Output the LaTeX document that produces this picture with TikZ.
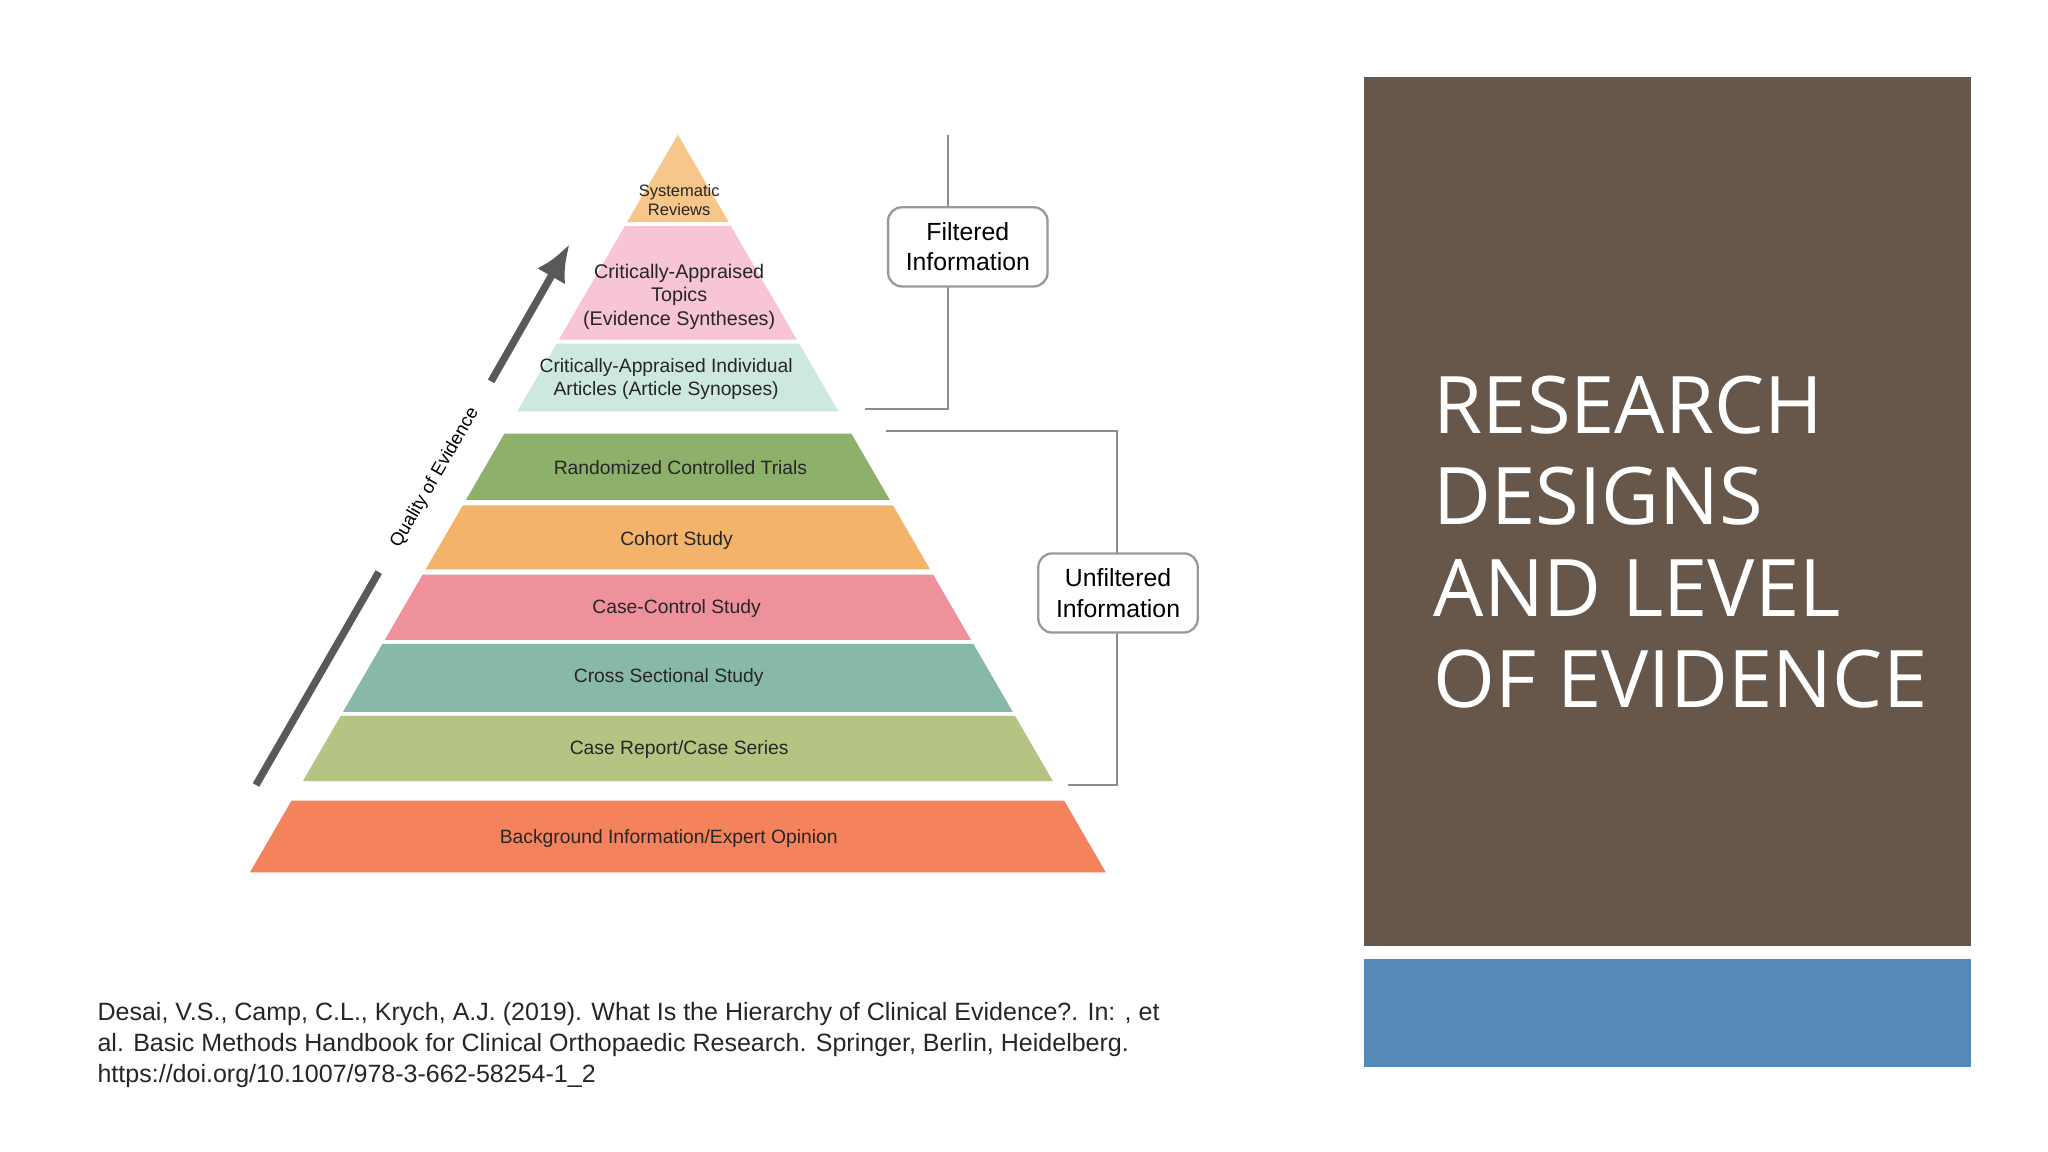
\documentclass[tikz,border=0pt]{standalone}
\usepackage{fontspec}
\usetikzlibrary{arrows.meta}
\setmainfont{Liberation Sans}
\newfontfamily\titlefont{Open Sans}
\begin{document}
\begin{tikzpicture}[x=0.01cm,y=-0.01cm,
  lvl/.style={font=\fontsize{4.1}{5}\selectfont, align=center, text=black!85},
  lvlb/.style={lvl, font=\fontsize{4.2}{5.1}\selectfont},
  bracket/.style={draw=black!45, line width=0.5pt},
  infobox/.style={draw=black!40, rounded corners=3pt, line width=0.5pt, fill=white, align=center, font=\fontsize{5.4}{6.6}\selectfont, minimum width=1.22cm, minimum height=0.6cm}]
\useasboundingbox[fill=white] (0,0) rectangle (1568,882);
\def\lx#1{519-0.58*(#1-103)}
\def\rx#1{519+0.58*(#1-103)}
\def\layer#1#2#3{\fill[#1] ({\lx{#2}},#2) -- ({\rx{#2}},#2) -- ({\rx{#3}},#3) -- ({\lx{#3}},#3) -- cycle;}
\definecolor{c1}{HTML}{F6C68A}\definecolor{c2}{HTML}{F7C5D5}\definecolor{c3}{HTML}{CDE8E0}
\definecolor{c4}{HTML}{8DB06A}\definecolor{c5}{HTML}{F3B36A}\definecolor{c6}{HTML}{EE919B}
\definecolor{c7}{HTML}{88B8A8}\definecolor{c8}{HTML}{B5C383}\definecolor{c9}{HTML}{F4825C}
\fill[c1] (519,103) -- ({\rx{170}},170) -- ({\lx{170}},170) -- cycle;
\layer{c2}{173}{260}
\layer{c3}{263}{315}
\layer{c4}{332}{383}
\layer{c5}{387}{436}
\layer{c6}{440}{490}
\layer{c7}{493}{545}
\layer{c8}{548}{598}
\layer{c9}{613}{668}
\node[lvl, font=\fontsize{3.6}{4.2}\selectfont] (l1) at (520,153) {Systematic\\Reviews};
\node[lvl, font=\fontsize{4.3}{5.1}\selectfont] (l2) at (520,227) {Critically-Appraised\\Topics\\(Evidence Syntheses)};
\node[lvlb] (l3) at (510,290) {Critically-Appraised Individual\\Articles (Article Synopses)};
\node[lvlb] (l4) at (521,358) {Randomized Controlled Trials};
\node[lvlb] (l5) at (518,414) {Cohort Study};
\node[lvlb] (l6) at (518,466) {Case-Control Study};
\node[lvlb] (l7) at (512,519) {Cross Sectional Study};
\node[lvlb] (l8) at (520,574) {Case Report/Case Series};
\node[lvlb] (l9) at (512,642) {Background Information/Expert Opinion};
\coordinate (a0) at (196,601); \coordinate (a1) at (290,438);
\coordinate (a2) at (376,292); \coordinate (a3) at (436,187);
\draw[black!65, line width=1.6pt] (a0) -- (a1);
\draw[black!65, line width=1.6pt, -{Latex[length=8pt,width=7pt]}] (a2) -- (a3);
\node[rotate=60, font=\fontsize{4}{5}\selectfont] (q) at (333,366) {Quality of Evidence};
\coordinate (f0) at (726,103); \coordinate (f1) at (726,313); \coordinate (f2) at (662,313);
\draw[bracket] (f0) -- (f1) -- (f2);
\node[infobox] (fb) at (741,189) {Filtered\\Information};
\coordinate (u0) at (678,330); \coordinate (u1) at (855,330); \coordinate (u2) at (855,601); \coordinate (u3) at (818,601);
\draw[bracket] (u0) -- (u1) -- (u2) -- (u3);
\node[infobox] (ub) at (856,454) {Unfiltered\\Information};
\definecolor{br}{HTML}{66574A}\definecolor{bl}{HTML}{5589B8}
\fill[br] (1044,59) rectangle (1509,724);
\fill[bl] (1044,734) rectangle (1509,817);
\node[anchor=north west, align=left, text=white, inner sep=0pt, font=\titlefont\fontsize{17.3}{19.9}\selectfont] (title) at (1097,287) {RESEARCH\\DESIGNS\\AND LEVEL\\OF EVIDENCE};
\node[anchor=north west, align=left, inner sep=0pt, text=black!85, font=\fontsize{5.45}{6.7}\selectfont] (cite) at (74,767) {Desai, V.S., Camp, C.L., Krych, A.J. (2019). What Is the Hierarchy of Clinical Evidence?. In: , et\\al. Basic Methods Handbook for Clinical Orthopaedic Research. Springer, Berlin, Heidelberg.\\https://doi.org/10.1007/978-3-662-58254-1\_2};
\end{tikzpicture}
\end{document}
